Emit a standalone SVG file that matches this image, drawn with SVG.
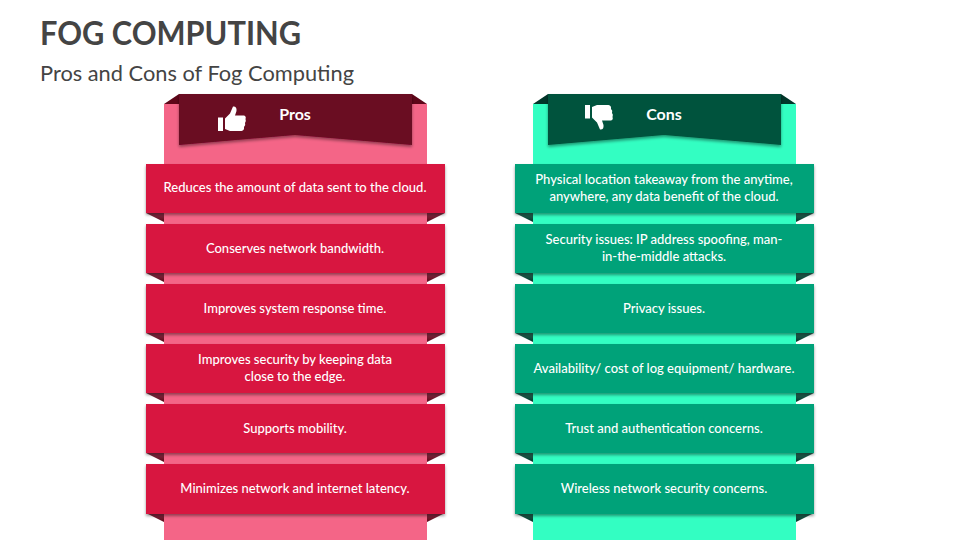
<svg xmlns="http://www.w3.org/2000/svg" width="960" height="540" viewBox="0 0 960 540">
<defs>
<filter id="sh" x="-5%" y="-10%" width="110%" height="125%"><feDropShadow dx="0" dy="2" stdDeviation="1.500" flood-color="#000" flood-opacity="0.4"/></filter>
<linearGradient id="fp" x1="0" y1="0" x2="0" y2="1"><stop offset="0" stop-color="#8a3048"/><stop offset="1" stop-color="#5e0618"/></linearGradient>
<linearGradient id="fc" x1="0" y1="0" x2="0" y2="1"><stop offset="0" stop-color="#2a6a58"/><stop offset="1" stop-color="#01362a"/></linearGradient>
<g id="thumb"><rect x="0" y="11.500" width="5" height="13.500" fill="#fff"/><path d="M7 12.500 L12 7.500 L15 0.500 Q19 0 18.500 5 L17 9.500 L26 9.500 Q28.500 10.500 27.500 13 Q28.500 15.500 27 17 Q28 19.500 26 21 Q26.500 24.500 23.500 25 L12 25 L7 23 Z" fill="#fff"/></g>
</defs>
<style>
text{font-family:Lato,"Open Sans","Liberation Sans",sans-serif;}
.t{font-size:13px;font-weight:500;fill:#fff;text-anchor:middle;}
.h{font-size:16px;font-weight:700;fill:#fff;text-anchor:middle;}
.pb{fill:#d8163f;filter:url(#sh);} .pf{fill:url(#fp);} .pt{fill:#5e0618;} .pp{fill:#f46587;} .pd{fill:#6b0823;}
.cb{fill:#04a279;filter:url(#sh);} .cf{fill:url(#fc);} .ct{fill:#01362a;} .cp{fill:#33fec2;} .cd{fill:#03523c;}
</style>
<g id="title">
<text x="40" y="45" font-size="33" font-weight="700" fill="#444" textLength="261" lengthAdjust="spacingAndGlyphs">FOG COMPUTING</text>
<text x="40" y="81" font-size="21.300" fill="#444" textLength="314" lengthAdjust="spacingAndGlyphs">Pros and Cons of Fog Computing</text>
</g>
<g id="pros">
<rect class="pp" x="164" y="104" width="263" height="436"/>
<path class="pt" d="M179 94L164 104H179ZM412 94L427 104H412Z"/>
<path class="pd" filter="url(#sh)" d="M179 94H412V145L295 135L179 145Z"/>
<use href="#thumb" x="218" y="106"/>
<text class="h" x="295" y="120">Pros</text>
<g id="pro1"><path class="pf" d="M146 213L164 222V213ZM445 213L427 222V213Z"/><rect class="pb" x="146" y="164" width="299" height="49"/><text class="t" x="295" y="192">Reduces the amount of data sent to the cloud.</text></g>
<g id="pro2"><path class="pf" d="M146 273L164 282V273ZM445 273L427 282V273Z"/><rect class="pb" x="146" y="224" width="299" height="49"/><text class="t" x="295" y="253">Conserves network bandwidth.</text></g>
<g id="pro3"><path class="pf" d="M146 333L164 342V333ZM445 333L427 342V333Z"/><rect class="pb" x="146" y="284" width="299" height="49"/><text class="t" x="295" y="313">Improves system response time.</text></g>
<g id="pro4"><path class="pf" d="M146 393L164 402V393ZM445 393L427 402V393Z"/><rect class="pb" x="146" y="344" width="299" height="49"/><text class="t" x="295" y="364">Improves security by keeping data</text><text class="t" x="295" y="381">close to the edge.</text></g>
<g id="pro5"><path class="pf" d="M146 453L164 462V453ZM445 453L427 462V453Z"/><rect class="pb" x="146" y="404" width="299" height="49"/><text class="t" x="295" y="433">Supports mobility.</text></g>
<g id="pro6"><path class="pf" d="M146 513L164 522V513ZM445 513L427 522V513Z"/><rect class="pb" x="146" y="464" width="299" height="50"/><text class="t" x="295" y="493">Minimizes network and internet latency.</text></g>
</g>
<g id="cons">
<rect class="cp" x="533" y="104" width="263" height="436"/>
<path class="ct" d="M548 94L533 104H548ZM781 94L796 104H781Z"/>
<path class="cd" filter="url(#sh)" d="M548 94H781V145L664 135L548 145Z"/>
<use href="#thumb" transform="translate(585 130) scale(1 -1)"/>
<text class="h" x="664" y="120">Cons</text>
<g id="con1"><path class="cf" d="M515 213L533 222V213ZM814 213L796 222V213Z"/><rect class="cb" x="515" y="164" width="299" height="49"/><text class="t" x="664" y="184">Physical location takeaway from the anytime,</text><text class="t" x="664" y="201">anywhere, any data benefit of the cloud.</text></g>
<g id="con2"><path class="cf" d="M515 273L533 282V273ZM814 273L796 282V273Z"/><rect class="cb" x="515" y="224" width="299" height="49"/><text class="t" x="664" y="244">Security issues: IP address spoofing, man-</text><text class="t" x="664" y="261">in-the-middle attacks.</text></g>
<g id="con3"><path class="cf" d="M515 333L533 342V333ZM814 333L796 342V333Z"/><rect class="cb" x="515" y="284" width="299" height="49"/><text class="t" x="664" y="313">Privacy issues.</text></g>
<g id="con4"><path class="cf" d="M515 393L533 402V393ZM814 393L796 402V393Z"/><rect class="cb" x="515" y="344" width="299" height="49"/><text class="t" x="664" y="373">Availability/ cost of log equipment/ hardware.</text></g>
<g id="con5"><path class="cf" d="M515 453L533 462V453ZM814 453L796 462V453Z"/><rect class="cb" x="515" y="404" width="299" height="49"/><text class="t" x="664" y="433">Trust and authentication concerns.</text></g>
<g id="con6"><path class="cf" d="M515 513L533 522V513ZM814 513L796 522V513Z"/><rect class="cb" x="515" y="464" width="299" height="50"/><text class="t" x="664" y="493">Wireless network security concerns.</text></g>
</g>
</svg>
